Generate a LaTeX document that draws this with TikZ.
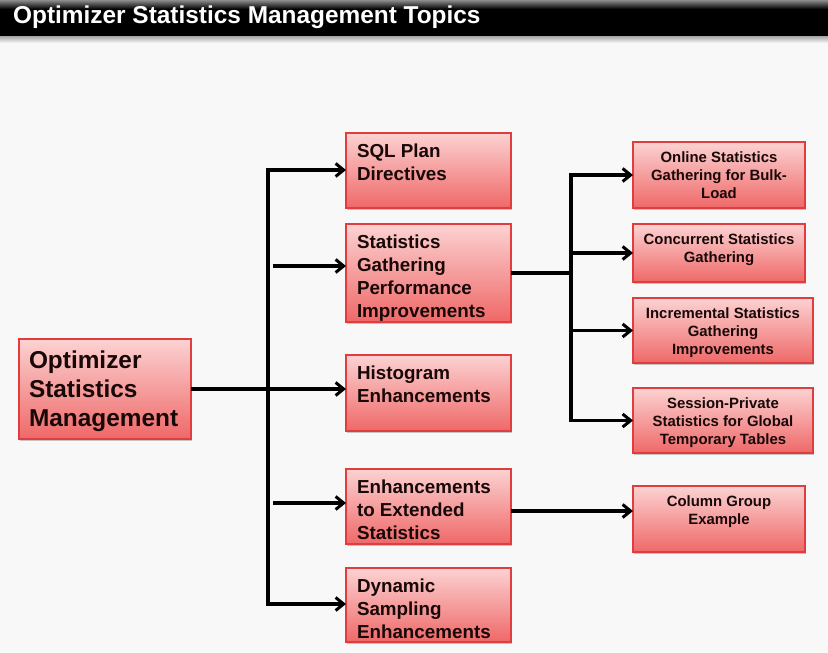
\documentclass[tikz,border=0pt]{standalone}
\usepackage{fontspec}
\setmainfont{Liberation Sans}
\usetikzlibrary{arrows.meta,shadows}
\definecolor{bg}{RGB}{248,248,248}
\definecolor{boxtop}{RGB}{252,210,210}
\definecolor{boxbot}{RGB}{239,104,104}
\definecolor{boxline}{RGB}{224,62,62}
\definecolor{ink}{RGB}{24,8,8}
\newcommand\midtext[2]{\parbox[c][#1][t]{165pt}{\vspace*{10.5pt}\fontsize{18.8}{23}\selectfont\raggedright\leftskip=11pt\rule{0pt}{14pt}#2}}
\newcommand\righttext[3]{\parbox[c][#1][t]{#2}{\vspace*{9pt}\fontsize{14.9}{18}\selectfont\centering\rule{0pt}{11pt}#3}}
\tikzset{
  pbox/.style={draw=boxline, line width=1.1pt, top color=boxtop, bottom color=boxbot,
    inner sep=0pt, outer sep=0pt, anchor=north west, text=ink, font=\bfseries,
    drop shadow={shadow xshift=1pt, shadow yshift=-2pt, opacity=0.3, fill=black!70}},
  barb/.tip={Straight Barb[length=8pt,width=13pt,line width=3pt]},
  conn/.style={line width=3.3pt, black, line join=miter, -barb},
  conn2/.style={line width=3.3pt, black, line join=miter, barb-barb}
}
\begin{document}
\begin{tikzpicture}[x=1pt,y=-1pt]
\useasboundingbox (0,0) rectangle (828,653);
\fill[bg] (0,0) rectangle (828,653);
% title bar
\fill[black] (0,0) rectangle (828,36);
\shade[top color=black!45, bottom color=black] (0,0) rectangle (828,9);
\shade[top color=black!35, bottom color=bg] (0,36) rectangle (828,43);
\node[anchor=base west, inner sep=0pt, text=white, font=\bfseries\fontsize{24.4}{28}\selectfont] (title) at (13,23.3) {Optimizer Statistics Management Topics};

% main box
\node[pbox] (main) at (19,339) {\parbox[c][100pt][t]{172pt}{\vspace*{11pt}\fontsize{24.4}{29}\selectfont\raggedright\leftskip=10pt\rule{0pt}{18pt}Optimizer\\Statistics\\Management}};

% middle column
\node[pbox] (sql) at (346,133) {\midtext{75pt}{SQL Plan\\Directives}};
\node[pbox] (stats) at (346,224) {\midtext{98pt}{Statistics\\Gathering\\Performance\\Improvements}};
\node[pbox] (hist) at (346,355) {\midtext{76pt}{Histogram\\Enhancements}};
\node[pbox] (enh) at (346,469) {\midtext{75pt}{Enhancements\\to Extended\\Statistics}};
\node[pbox] (dyn) at (346,568) {\midtext{74pt}{Dynamic\\Sampling\\Enhancements}};

% right column
\node[pbox] (online) at (633,142) {\righttext{66pt}{172pt}{Online Statistics\\Gathering for Bulk-\\Load}};
\node[pbox] (conc) at (633,224) {\righttext{58pt}{172pt}{Concurrent Statistics\\Gathering}};
\node[pbox] (incr) at (633,298) {\righttext{65pt}{180pt}{Incremental Statistics\\Gathering\\Improvements}};
\node[pbox] (sess) at (633,388) {\righttext{65pt}{180pt}{Session-Private\\Statistics for Global\\Temporary Tables}};
\node[pbox] (col) at (633,486) {\righttext{66pt}{172pt}{Column Group\\Example}};

% connectors, left
\coordinate (ta) at (268,170);
\coordinate (tb) at (268,604);
\coordinate (sa) at (273,266);
\coordinate (ea) at (273,503);
\draw[conn2] (ta -| sql.west) -- (ta) -- (tb) -- (tb -| dyn.west);
\draw[conn] (main.east) -- (main.east -| hist.west);
\draw[conn] (sa) -- (sa -| stats.west);
\draw[conn] (ea) -- (ea -| enh.west);

% connectors, right
\coordinate (ra) at (571,274);
\draw[line width=3.3pt] (stats.east) -- (stats.east -| ra);
\coordinate (rt) at (online.west -| ra);
\coordinate (rb) at (sess.west -| ra);
\draw[conn2] (online.west) -- (rt) -- (rb) -- (sess.west);
\draw[conn] (conc.west -| ra) -- (conc.west);
\draw[conn] (incr.west -| ra) -- (incr.west);
\coordinate (ec) at (511,511);
\draw[conn] (ec) -- (ec -| col.west);
\end{tikzpicture}
\end{document}
